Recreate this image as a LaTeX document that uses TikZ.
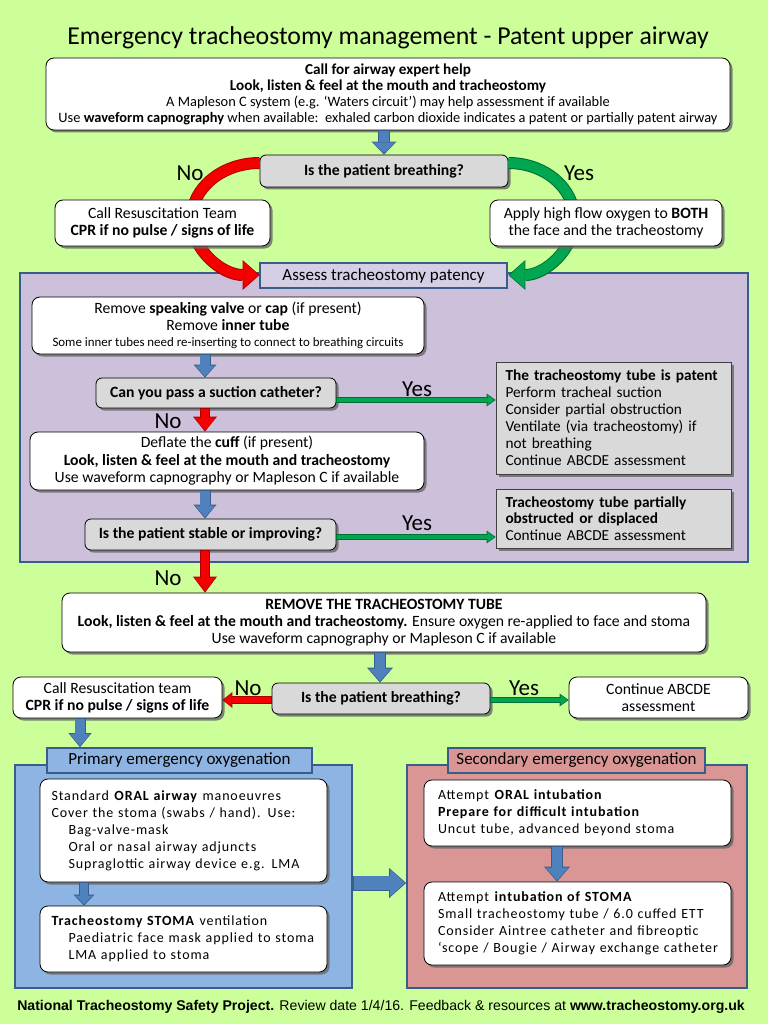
\documentclass[tikz,border=0pt]{standalone}
\usepackage{fontspec}
\setmainfont{Carlito}
\newfontfamily\widefont[LetterSpace=6.4]{Carlito}
\newfontfamily\footfont{Liberation Sans}
\usetikzlibrary{arrows.meta,shadows}

\definecolor{bggreen}{RGB}{204,255,153}
\definecolor{lilac}{RGB}{204,192,218}
\definecolor{lilachd}{RGB}{214,206,228}
\definecolor{skyblue}{RGB}{141,180,226}
\definecolor{rosered}{RGB}{217,150,148}
\definecolor{paneledge}{RGB}{56,93,138}
\definecolor{qgrey}{RGB}{217,217,217}
\definecolor{arrblue}{RGB}{79,129,189}
\definecolor{arrblueedge}{RGB}{56,93,138}
\definecolor{arrred}{RGB}{245,0,0}
\definecolor{arrrededge}{RGB}{170,0,0}
\definecolor{arrgreen}{RGB}{0,166,80}
\definecolor{arrgreenedge}{RGB}{0,110,50}

\tikzset{
  every node/.style={font=\fontsize{15.7}{17}\selectfont, inner sep=0pt, align=center},
  boxshadow/.style={drop shadow={shadow xshift=2.5pt, shadow yshift=-2.5pt, fill=black!60, opacity=0.8}},
  whitebox/.style={draw=black, line width=0.8pt, fill=white, rounded corners=8pt, boxshadow},
  askbox/.style={draw=black, line width=0.8pt, fill=qgrey, rounded corners=6pt, boxshadow},
  notebox/.style={draw=black!75, line width=0.8pt, fill=qgrey, boxshadow, align=left, inner xsep=9.5pt},
  panel/.style={draw=paneledge, line width=1.6pt},
  hdrbox/.style={draw=paneledge, line width=1.6pt, font=\fontsize{17}{19}\selectfont},
  answer/.style={font=\fontsize{23}{25}\selectfont},
  listbox/.style={whitebox, align=left, font=\widefont\fontsize{14}{17}\selectfont},
}

% block arrow: colour, shaft, head width, head length, path
\newcommand\blockarrow[5]{%
  \pgfmathsetmacro\innshaft{#2-1.6}%
  \pgfmathsetmacro\innw{#3-3}%
  \pgfmathsetmacro\innl{#4-2.2}%
  \draw[draw=#1edge, line width=#2pt, -{Triangle[width=#3pt,length=#4pt,line width=0pt]}] #5;
  \draw[draw=#1, line width=\innshaft pt, -{Triangle[width=\innw pt,length=\innl pt,line width=0pt]}, shorten >=1.3pt, shorten <=0.8pt] #5;
}

\begin{document}
\begin{tikzpicture}[x=1pt,y=1pt]
  \fill[bggreen] (0,0) rectangle (768,-1024);
  \useasboundingbox (0,0) rectangle (768,-1024);

  \node (title) at (388,-38) {\fontsize{25.8}{28}\selectfont Emergency tracheostomy management - Patent upper airway};

  % first checks
  \node[whitebox, minimum width=684, minimum height=72, font=\fontsize{15.2}{16}\selectfont] (expert) at (388,-94)
    {\textbf{Call for airway expert help}\\
     \textbf{Look, listen \& feel at the mouth and tracheostomy}\\
     {\fontsize{14.4}{16}\selectfont A Mapleson C system (e.g. ‘Waters circuit’) may help assessment if available}\\
     {\fontsize{14.4}{16}\selectfont Use \textbf{waveform capnography} when available:\ \ exhaled carbon dioxide indicates a patent or partially patent airway}};
  \node[askbox, minimum width=248, minimum height=32] (breath1) at (384,-171) {\textbf{Is the patient breathing?}};

  % assess patency panel
  \node[panel, fill=lilac, minimum width=728, minimum height=289] (assess) at (384,-417.5) {};
  \node[hdrbox, fill=lilachd, minimum width=247, minimum height=25] (assesshd) at (383.5,-275.5) {Assess tracheostomy patency};

  \draw[draw=arrrededge, line width=12pt, -{Triangle[width=30pt,length=17pt,line width=0pt]}]
    ([yshift=8]breath1.west) arc[start angle=90, end angle=270, x radius=68, y radius=56];
  \draw[draw=arrred, line width=10pt, -{Triangle[width=27pt,length=15pt,line width=0pt]}, shorten >=1.3pt]
    ([yshift=8]breath1.west) arc[start angle=90, end angle=270, x radius=68, y radius=56];
  \draw[draw=arrgreenedge, line width=12pt, -{Triangle[width=30pt,length=17pt,line width=0pt]}]
    ([yshift=8]breath1.east) arc[start angle=90, end angle=-90, x radius=66, y radius=56];
  \draw[draw=arrgreen, line width=10pt, -{Triangle[width=27pt,length=15pt,line width=0pt]}, shorten >=1.3pt]
    ([yshift=8]breath1.east) arc[start angle=90, end angle=-90, x radius=66, y radius=56];

  \node[whitebox, minimum width=215, minimum height=46] (resus1) at (162.5,-223)
    {Call Resuscitation Team\\\textbf{CPR if no pulse / signs of life}};
  \node[whitebox, minimum width=232, minimum height=46] (oxygen) at (606,-223)
    {Apply high flow oxygen to \textbf{BOTH}\\the face and the tracheostomy};
  \node[answer] (no1) at (190,-173) {No};
  \node[answer] (yes1) at (579,-173) {Yes};

  \node[whitebox, minimum width=392, minimum height=57, font=\fontsize{15.7}{16.5}\selectfont] (valve) at (228,-325.5)
    {Remove \textbf{speaking valve} or \textbf{cap} (if present)\\
     Remove \textbf{inner tube}\\
     {\fontsize{12.9}{16.5}\selectfont Some inner tubes need re-inserting to connect to breathing circuits}};
  \node[askbox, minimum width=240, minimum height=30] (suction) at (216,-393) {\textbf{Can you pass a suction catheter?}};
  \node[notebox, text width=216, minimum height=112, font=\fontsize{15.3}{17}\selectfont] (patent) at (613.5,-418)
    {\textbf{The tracheostomy tube is patent}\\
     Perform tracheal suction\\
     Consider partial obstruction\\
     Ventilate (via tracheostomy) if\\
     not breathing\\
     Continue ABCDE assessment};
  \node[whitebox, minimum width=394, minimum height=58, font=\fontsize{15.7}{17.5}\selectfont] (cuff) at (227,-461)
    {Deflate the \textbf{cuff} (if present)\\
     \textbf{Look, listen \& feel at the mouth and tracheostomy}\\
     Use waveform capnography or Mapleson C if available};
  \node[askbox, minimum width=251, minimum height=31] (stable) at (210.5,-534.5) {\textbf{Is the patient stable or improving?}};
  \node[notebox, text width=216, minimum height=59, font=\fontsize{15.3}{16.5}\selectfont] (partial) at (613.5,-518.5)
    {\textbf{Tracheostomy tube partially}\\
     \textbf{obstructed or displaced}\\
     Continue ABCDE assessment};
  \node[answer] (yes2) at (417,-389) {Yes};
  \node[answer] (no2) at (168,-421) {No};
  \node[answer] (yes3) at (417,-523) {Yes};
  \node[answer] (no3) at (168,-578) {No};

  % tube removed
  \node[whitebox, minimum width=644, minimum height=59] (remove) at (384,-622.5)
    {\textbf{REMOVE THE TRACHEOSTOMY TUBE}\\
     \textbf{Look, listen \& feel at the mouth and tracheostomy.} Ensure oxygen re-applied to face and stoma\\
     Use waveform capnography or Mapleson C if available};
  \node[askbox, minimum width=218, minimum height=31] (breath2) at (381,-698.5) {\textbf{Is the patient breathing?}};
  \node[whitebox, minimum width=209, minimum height=41] (resus2) at (117.5,-697.5)
    {Call Resuscitation team\\\textbf{CPR if no pulse / signs of life}};
  \node[whitebox, minimum width=179, minimum height=41] (abcde) at (658.5,-697.5)
    {Continue ABCDE\\assessment};
  \node[answer] (no4) at (248,-688) {No};
  \node[answer] (yes4) at (524,-688) {Yes};

  % primary and secondary oxygenation
  \node[panel, fill=skyblue, minimum width=337, minimum height=223] (primary) at (183.5,-876.5) {};
  \node[hdrbox, fill=skyblue, minimum width=265, minimum height=25] (primaryhd) at (179.5,-760.5) {Primary emergency oxygenation};
  \node[listbox, inner xsep=11.5pt, text width=264, minimum height=103] (oral) at (183.5,-830.5)
    {Standard \textbf{ORAL airway} manoeuvres\\
     Cover the stoma (swabs / hand). Use:\\
     \hspace*{17pt}Bag-valve-mask\\
     \hspace*{17pt}Oral or nasal airway adjuncts\\
     \hspace*{17pt}Supraglottic airway device e.g. LMA};
  \node[listbox, inner xsep=11.5pt, text width=264, minimum height=66] (stoma) at (183.5,-939)
    {\textbf{Tracheostomy STOMA} ventilation\\
     \hspace*{17pt}Paediatric face mask applied to stoma\\
     \hspace*{17pt}LMA applied to stoma};

  \node[panel, fill=rosered, minimum width=340, minimum height=223] (secondary) at (577,-876.5) {};
  \node[hdrbox, fill=rosered, minimum width=257, minimum height=25] (secondaryhd) at (576.5,-760.5) {Secondary emergency oxygenation};
  \node[listbox, inner xsep=14pt, text width=279, minimum height=66] (intub) at (577.5,-813)
    {Attempt \textbf{ORAL intubation}\\
     \textbf{Prepare for difficult intubation}\\
     Uncut tube, advanced beyond stoma};
  \node[listbox, inner xsep=14pt, text width=279, minimum height=83] (stomatube) at (577.5,-923.5)
    {Attempt \textbf{intubation of STOMA}\\
     Small tracheostomy tube / 6.0 cuffed ETT\\
     Consider Aintree catheter and fibreoptic\\
     ‘scope / Bougie / Airway exchange catheter};

  \node (footer) at (381,-1007) {\footfont\fontsize{14.1}{16}\selectfont\textbf{National Tracheostomy Safety Project.} Review date 1/4/16. Feedback \& resources at \textbf{www.tracheostomy.org.uk}};

  % connectors
  \blockarrow{arrblue}{12}{25}{13}{(expert.south -| breath1.north) -- (breath1.north)}
  \blockarrow{arrblue}{11}{23}{13}{([xshift=-23]valve.south) -- ([xshift=-11]suction.north)}
  \blockarrow{arrred}{10}{24}{15}{([xshift=-11]suction.south) -- ([xshift=-22]cuff.north)}
  \blockarrow{arrgreen}{6}{13}{9}{([yshift=-7]suction.east) -- ([yshift=18]patent.west)}
  \blockarrow{arrblue}{11}{23}{14}{([xshift=-22]cuff.south) -- ([xshift=-5.5]stable.north)}
  \blockarrow{arrgreen}{6}{13}{9}{([yshift=-2.5]stable.east) -- ([yshift=-18.5]partial.west)}
  \blockarrow{arrred}{10}{24}{16}{([xshift=-5.5]stable.south) -- ([xshift=-179]remove.north)}
  \blockarrow{arrblue}{12}{26}{15}{([xshift=-4]remove.south) -- ([xshift=-1]breath2.north)}
  \blockarrow{arrred}{8}{16}{10}{([yshift=-1.5]breath2.west) -- ([yshift=-2.5]resus2.east)}
  \blockarrow{arrgreen}{6}{13}{9}{([yshift=-1.5]breath2.east) -- ([yshift=-2.5]abcde.west)}
  \blockarrow{arrblue}{11}{23}{14}{([xshift=-37.5]resus2.south) -- ([xshift=-99.5]primaryhd.north)}
  \blockarrow{arrblue}{10}{21}{11}{([xshift=-99.5]oral.south) -- ([xshift=-99.5]stoma.north)}
  \blockarrow{arrblue}{15}{30}{17}{([yshift=-6.5]primary.east) -- ([yshift=-6.5]secondary.west)}
  \blockarrow{arrblue}{12}{26}{15}{([xshift=-20.5]intub.south) -- ([xshift=-20.5]stomatube.north)}
\end{tikzpicture}
\end{document}
